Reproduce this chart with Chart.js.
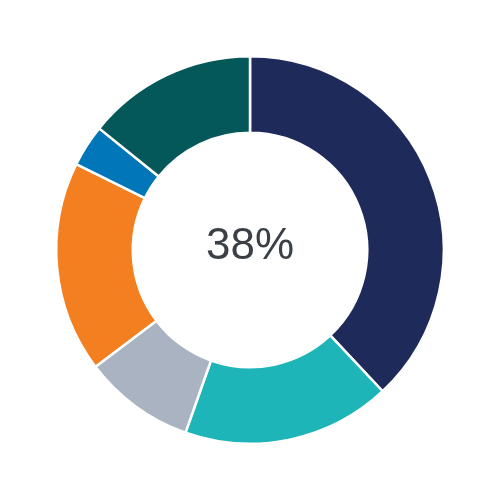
<!DOCTYPE html>
<html>
<head>
<meta charset="utf-8">
<script src="https://cdn.jsdelivr.net/npm/chart.js@4/dist/chart.umd.min.js"></script>
<style>
  html, body { margin: 0; padding: 0; background: #fff; }
  #wrap { width: 500px; height: 500px; position: relative; }
</style>
</head>
<body>
<div id="wrap"><canvas id="donut"></canvas></div>
<script>
// slice order: clockwise from 12 o'clock
const labels = ['A', 'B', 'C', 'D', 'E', 'F'];
const values = [38, 17.4, 9.3, 17.6, 3.5, 14.2];
const colors = ['#1e2b5a', '#1db5b8', '#a9b3c2', '#f37f21', '#0176b9', '#05585a'];
const centerLabel = '38%';

// draws the big number in the hole
const centerText = {
  id: 'centerText',
  afterDraw(chart) {
    const { ctx, chartArea } = chart;
    const x = (chartArea.left + chartArea.right) / 2;
    const y = (chartArea.top + chartArea.bottom) / 2;
    ctx.save();
    ctx.font = '44px "Liberation Sans", Arial, sans-serif';
    ctx.fillStyle = '#3b3f46';
    ctx.textAlign = 'center';
    ctx.textBaseline = 'middle';
    ctx.fillText(centerLabel, x, y - 3);
    ctx.restore();
  }
};

new Chart(document.getElementById('donut'), {
  type: 'doughnut',
  data: {
    labels: labels,
    datasets: [{
      data: values,
      backgroundColor: colors,
      borderColor: '#ffffff',
      borderWidth: 2.5
    }]
  },
  options: {
    responsive: true,
    maintainAspectRatio: false,
    animation: false,
    cutout: '60.5%',
    layout: { padding: 55 },
    plugins: {
      legend: { display: false },
      tooltip: { enabled: false }
    }
  },
  plugins: [centerText]
});
</script>
</body>
</html>
